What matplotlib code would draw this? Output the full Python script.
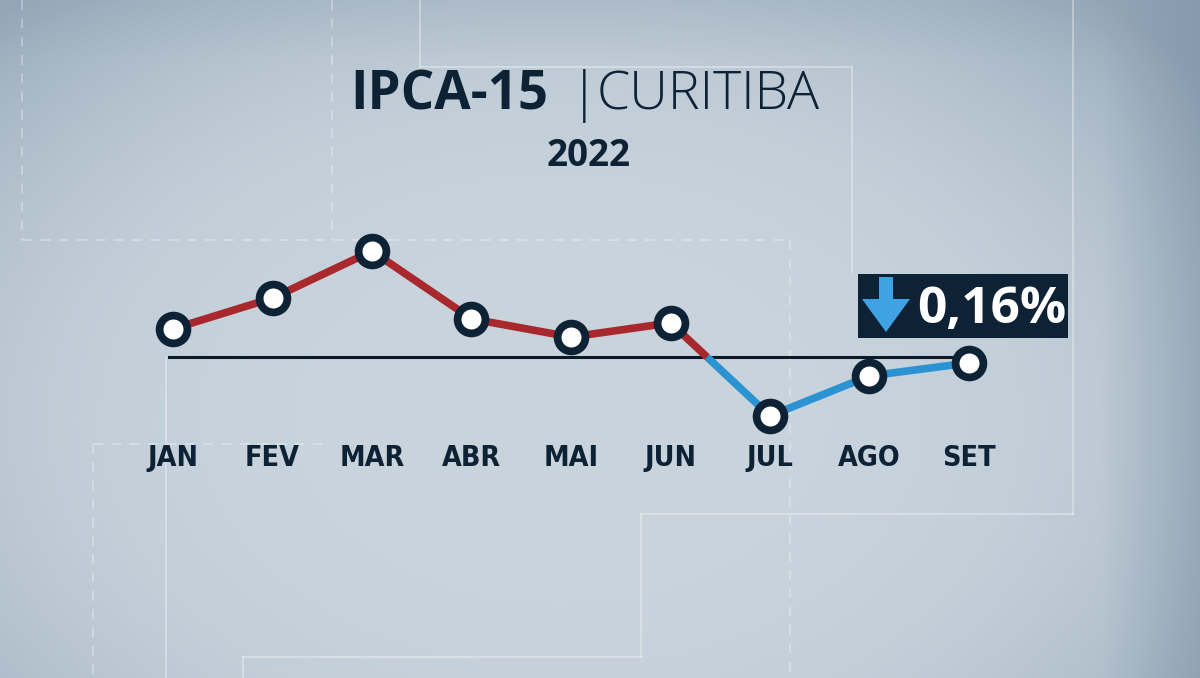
import numpy as np
import matplotlib
matplotlib.use("Agg")
import matplotlib.pyplot as plt
from matplotlib.patches import Rectangle, Polygon

# ---------------- data ----------------
months = ["JAN", "FEV", "MAR", "ABR", "MAI", "JUN", "JUL", "AGO", "SET"]
values = [0.76, 1.59, 2.86, 1.03, 0.54, 0.92, -1.59, -0.51, -0.16]
title_bold = "IPCA-15"
title_light = "CURITIBA"
subtitle = "2022"

# ---------------- styles ----------------
NAVY = "#0e2236"
RED = "#a8282d"
BLUE = "#2c93d2"
ARROW_BLUE = "#3fa2e2"
W, H = 1200, 678

fig = plt.figure(figsize=(W / 100, H / 100), dpi=100)

# ---------------- background (vignette + decorative lines) ----------------
bg = fig.add_axes([0, 0, 1, 1])
bg.set_xlim(0, W)
bg.set_ylim(H, 0)
bg.axis("off")
yy, xx = np.mgrid[0:H, 0:W]
d = np.sqrt(((xx - 560) / 820.0) ** 2 + ((yy - 420) / 560.0) ** 2)
t = np.clip(d, 0, 1) ** 3.5
center = np.array([201, 212, 221]) / 255.0
edge = np.array([150, 168, 185]) / 255.0
img = center[None, None, :] * (1 - t[..., None]) + edge[None, None, :] * t[..., None]
rb = np.clip((xx - 1100) / 100.0, 0, 1)[..., None] * 0.4
img = img * (1 - rb) + (np.array([112, 134, 157]) / 255.0) * rb
tb = np.clip((60 - yy) / 60.0, 0, 1)[..., None] * 0.2
img = img * (1 - tb) + (np.array([135, 155, 175]) / 255.0) * tb
bg.imshow(img, extent=(0, W, H, 0), aspect="auto", zorder=0)

line_kw = dict(color="white", lw=1.2, alpha=0.4, zorder=1)
dash_kw = dict(color="white", lw=1.2, alpha=0.35, ls=(0, (6, 5)), zorder=1)
bg.plot([22, 22], [0, 240], **dash_kw)
bg.plot([22, 790], [240, 240], **dash_kw)
bg.plot([332, 332], [0, 240], **dash_kw)
bg.plot([790, 790], [240, 678], **dash_kw)
bg.plot([93, 93], [444, 678], **dash_kw)
bg.plot([93, 330], [444, 444], **dash_kw)
bg.plot([420, 852], [67, 67], **line_kw)
bg.plot([420, 420], [0, 67], **line_kw)
bg.plot([852, 852], [67, 272], **line_kw)
bg.plot([1073, 1073], [0, 514], **line_kw)
bg.plot([641, 1073], [514, 514], **line_kw)
bg.plot([641, 641], [514, 657], **line_kw)
bg.plot([243, 641], [657, 657], **line_kw)
bg.plot([243, 243], [657, 678], **line_kw)
bg.plot([166, 166], [357, 678], **line_kw)

# ---------------- chart axes ----------------
x0_px, step_px = 173.0, 99.5
base_px, ppu = 357.0, 37.04
xlo, xhi = -0.5, 8.5
ylo, yhi = -2.2, 4.5
left_px = x0_px + xlo * step_px
right_px = x0_px + xhi * step_px
top_px = base_px - yhi * ppu
bot_px = base_px - ylo * ppu
ax = fig.add_axes([left_px / W, 1 - bot_px / H, (right_px - left_px) / W, (bot_px - top_px) / H])
ax.set_xlim(xlo, xhi)
ax.set_ylim(ylo, yhi)
ax.patch.set_alpha(0)
for s in ax.spines.values():
    s.set_visible(False)
ax.set_yticks([])

ax.axhline(0, xmin=(-0.04 - xlo) / (xhi - xlo), xmax=(8.15 - xlo) / (xhi - xlo),
           color="#0b1826", lw=2.2, zorder=2)

xs = np.arange(len(values), dtype=float)
vals = np.array(values, dtype=float)
for i in range(len(vals) - 1):
    xa, xb, va, vb = xs[i], xs[i + 1], vals[i], vals[i + 1]
    if va * vb < 0:
        xc = xa + va / (va - vb)
        pieces = [((xa, xc), (va, 0.0)), ((xc, xb), (0.0, vb))]
    else:
        pieces = [((xa, xb), (va, vb))]
    for (px, py) in pieces:
        col = RED if (py[0] + py[1]) > 0 else BLUE
        ax.plot(px, py, color=col, lw=5.5, solid_capstyle="butt", zorder=3)

ax.plot(xs, vals, ls="none", marker="o", ms=20, mew=5.6,
        mfc="white", mec=NAVY, zorder=4, clip_on=False)

# month labels (condensed bold)
ax.set_xticks(xs)
ax.set_xticklabels(months)
for lab in ax.get_xticklabels():
    lab.set_fontfamily("DejaVu Sans")
    lab.set_fontstretch("condensed")
    lab.set_fontweight("bold")
    lab.set_fontsize(20.5)
    lab.set_color(NAVY)
ax.tick_params(axis="x", length=0, pad=4.0)

# ---------------- title ----------------
fig.text(548 / W, 1 - 110 / H, title_bold, ha="right", va="baseline",
         fontfamily=["Open Sans", "DejaVu Sans"], fontweight="bold", fontsize=38, color=NAVY)
fig.text(584 / W, 1 - 110 / H, "|", ha="center", va="baseline",
         fontfamily=["Open Sans", "DejaVu Sans"], fontweight="light", fontsize=38, color=NAVY)
fig.text(597 / W, 1 - 110 / H, title_light, ha="left", va="baseline",
         fontfamily=["Open Sans", "DejaVu Sans"], fontweight="light", fontsize=38.5, color=NAVY)
fig.text(589 / W, 1 - 166 / H, subtitle, ha="center", va="baseline",
         fontfamily=["Open Sans", "DejaVu Sans"], fontweight="bold", fontsize=26.5, color=NAVY)

# ---------------- last-value badge ----------------
last = values[-1]
label = f"{abs(last):.2f}".replace(".", ",") + "%"
bg.add_patch(Rectangle((858, 274), 210, 64, facecolor=NAVY, edgecolor="none", zorder=5))
arrow = Polygon([(879, 277), (893, 277), (893, 299), (910, 299), (886, 332),
                 (862, 299), (879, 299)], closed=True, facecolor=ARROW_BLUE,
                edgecolor="none", zorder=6)
bg.add_patch(arrow)
bg.text(1066, 323, label, ha="right", va="baseline",
        fontfamily=["Open Sans", "DejaVu Sans"], fontweight="bold", fontsize=37,
        color="white", zorder=7)

fig.savefig("out.png", dpi=100)
